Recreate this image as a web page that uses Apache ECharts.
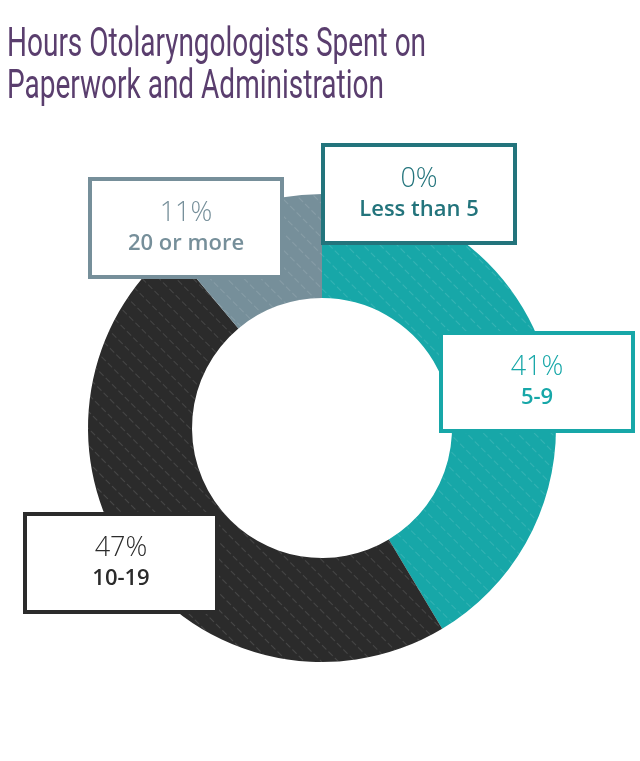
<!DOCTYPE html>
<html>
<head>
<meta charset="utf-8">
<script src="https://cdn.jsdelivr.net/npm/echarts@6/dist/echarts.min.js"></script>
<style>
  html, body { margin: 0; padding: 0; background: #fff; }
  #chart { width: 640px; height: 761px; }
</style>
</head>
<body>
<div id="chart"></div>
<script>
// data
const categories = ['Less than 5', '5-9', '10-19', '20 or more'];
const shares = [0, 41, 47, 11];
const sliceColors = ['#23747c', '#17a7a8', '#2b2b2b', '#768f9a'];
const titleLines = ['Hours Otolaryngologists Spent on', 'Paperwork and Administration'];

// where each label box sits (box centre)
const labelSpots = [[419, 194], [537, 382], [121, 563], [186, 228]];

const chart = echarts.init(document.getElementById('chart'));

const seriesData = categories.map((name, i) => ({
    name: name,
    value: shares[i],
    itemStyle: { color: sliceColors[i] },
    label: {
        borderColor: sliceColors[i],
        rich: {
            p: { color: sliceColors[i] },
            n: { color: sliceColors[i] }
        }
    }
}));

const option = {
    animation: false,
    graphic: titleLines.map((t, i) => ({
        type: 'text',
        x: 7,
        y: 46 + i * 42,
        scaleX: 0.70,
        style: {
            text: t,
            x: 0,
            y: 0,
            fill: '#5a3e6e',
            font: '400 40px Roboto',
            verticalAlign: 'middle'
        }
    })),
    series: [{
        type: 'pie',
        center: [322, 428],
        radius: [130, 234],
        startAngle: 90,
        clockwise: true,
        silent: true,
        labelLine: { show: false },
        itemStyle: {
            decal: {
                symbol: 'rect',
                color: 'rgba(255,255,255,0.13)',
                dashArrayX: [[6, 3]],
                dashArrayY: [1, 11],
                rotation: Math.PI / 4
            }
        },
        label: {
            show: true,
            position: 'outside',
            formatter: '{p|{c}%}\n{n|{b}}',
            backgroundColor: '#fff',
            borderWidth: 4,
            width: 188,
            padding: [17, 0],
            align: 'center',
            rich: {
                p: { fontFamily: 'Open Sans', fontWeight: 300, fontSize: 27, lineHeight: 31, align: 'center' },
                n: { fontFamily: 'Open Sans', fontWeight: 600, fontSize: 22, lineHeight: 29, align: 'center' }
            }
        },
        labelLayout: function (params) {
            const s = labelSpots[params.dataIndex];
            return { x: s[0], y: s[1], align: 'center', verticalAlign: 'middle', hideOverlap: false };
        },
        data: seriesData
    }]
};

chart.setOption(option);
</script>
</body>
</html>
